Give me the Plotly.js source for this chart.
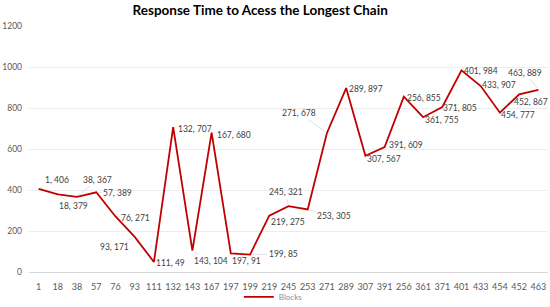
<!DOCTYPE html>
<html>
<head>
<meta charset="utf-8">
<script src="https://cdn.plot.ly/plotly-3.0.1.min.js"></script>
<style>html,body{margin:0;padding:0;background:#fff;}#chart{width:550px;height:307px;}</style>
</head>
<body>
<div id="chart"></div>
<script>
const categories = ["1","18","38","57","76","93","111","132","143","167","197","199","219","245","253","271","289","307","391","256","361","371","401","433","454","452","463"];
const blocks = [406,379,367,389,271,171,49,707,104,680,91,85,275,321,305,678,897,567,609,855,755,805,984,907,777,867,889];
const seriesName = "Blocks";
const tickVals = [0,200,400,600,800,1000,1200];

// label offsets in pixels (text centre relative to point)
const labelOffsets = [
  [18,-9],[16,12],[20,-17],[21,1],[20,2],[-20,10],[17,1],[22,2],[19,10],[22,2],
  [16,8],[33,-1],[19,6],[-3,-14],[26,7],[-28,-20],[20,1],[19,3],[21,-2],[20,1],
  [19,3],[18,1],[19,1],[18,-1],[18,2],[12,8],[-13,-17]
];

const FONT = 'Lato, "Open Sans", sans-serif';

const annotations = categories.map((c,i)=>({
  x: i, y: blocks[i], xref:'x', yref:'y',
  text: c + ', ' + blocks[i],
  showarrow: true, arrowhead: 0, arrowwidth: 0.6, arrowcolor: '#c8ccd4',
  ax: labelOffsets[i][0], ay: labelOffsets[i][1],
  standoff: 2,
  font: {family: FONT, size: 8.5, color: '#404040'}
}));

const trace = {
  x: categories, y: blocks, type: 'scatter', mode: 'lines', name: seriesName,
  line: {color: '#c00000', width: 1.8}
};

const layout = {
  width: 550, height: 307,
  margin: {l: 29, r: 2, t: 26, b: 35, autoexpand: false},
  paper_bgcolor: '#fff', plot_bgcolor: '#fff',
  title: {text: '<b>Response Time to Acess the Longest Chain</b>', x: 0.473, xref: 'container', xanchor: 'center',
    y: 0.966, yref: 'container', yanchor: 'middle',
    font: {family: FONT, size: 13.5, color: '#000'}},
  xaxis: {type: 'category', range: [-0.5, categories.length - 0.5], autorange: false, tickangle: 0,
    showgrid: false, showline: true, linecolor: '#d9d9d9', linewidth: 1, ticklabelstandoff: 6,
    ticks: '', tickfont: {family: FONT, size: 9, color: '#595959'}},
  yaxis: {range: [0,1200], autorange: false, tickvals: tickVals, showgrid: true, gridcolor: '#ececec', gridwidth: 1,
    zeroline: false, showline: false, ticks: '', ticklabelstandoff: 6,
    tickfont: {family: FONT, size: 8.5, color: '#595959'}},
  showlegend: true,
  legend: {orientation: 'h', x: 0.497, xref: 'container', xanchor: 'center', y: 0.033, yref: 'container', yanchor: 'middle',
    bgcolor: 'rgba(0,0,0,0)', font: {family: FONT, size: 8, color: '#7f8fa6'}, itemwidth: 30},
  annotations: annotations
};

Plotly.newPlot('chart', [trace], layout, {displayModeBar: false, staticPlot: true});
</script>
</body>
</html>
